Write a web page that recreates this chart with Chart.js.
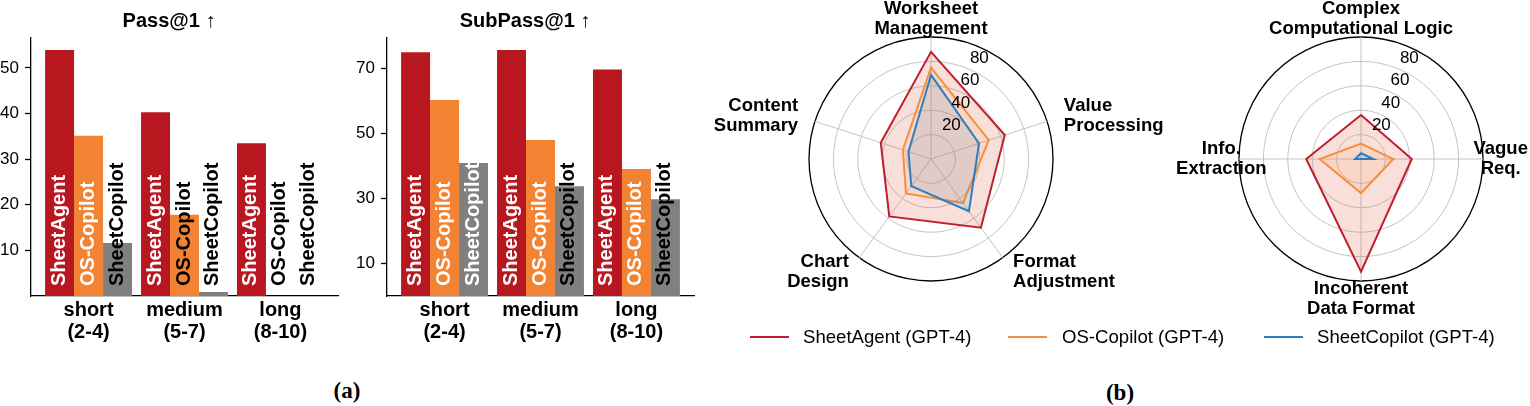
<!DOCTYPE html>
<html><head><meta charset="utf-8">
<script src="https://cdn.jsdelivr.net/npm/chart.js@4.4.0/dist/chart.umd.min.js"></script>
<style>
html,body{margin:0;padding:0;background:#fff;}
body{width:1530px;height:406px;position:relative;overflow:hidden;font-family:"Liberation Sans",Arial,sans-serif;}
canvas{position:absolute;}
.cap{position:absolute;font-family:"Liberation Serif","Times New Roman",serif;font-weight:bold;font-size:23px;transform:translate(-50%,-50%);white-space:nowrap;color:#000;}
.legline{position:absolute;height:2px;width:39px;}
.legtext{position:absolute;font-size:18.6px;color:#000;white-space:nowrap;transform:translateY(-50%);}
</style></head><body>
<canvas id="c1" width="345" height="345" style="left:0;top:0"></canvas>
<canvas id="c2" width="345" height="345" style="left:356px;top:0"></canvas>
<canvas id="r1" width="480" height="330" style="left:700px;top:0"></canvas>
<canvas id="r2" width="410" height="330" style="left:1120px;top:0"></canvas>
<div class="cap" style="left:347px;top:391px">(a)</div>
<div class="cap" style="left:1120px;top:393px">(b)</div>
<div id="legend"></div>
<script>
// ---------- data ----------
const barGroups = [['short','(2-4)'],['medium','(5-7)'],['long','(8-10)']];
const methods = ['SheetAgent','OS-Copilot','SheetCopilot'];
const passSheetAgent   = [53.9, 40.3, 33.5];
const passOSCopilot    = [35.1, 17.8, 0];
const passSheetCopilot = [11.6, 0.9, 0];
const subSheetAgent    = [75.0, 75.7, 69.7];
const subOSCopilot     = [60.3, 48.0, 39.1];
const subSheetCopilot  = [40.9, 33.8, 29.8];
const passTicks = [10, 20, 30, 40, 50];
const subTicks  = [10, 30, 50, 70];

const radar1Labels = [['Worksheet','Management'],['Value','Processing'],['Format','Adjustment'],['Chart','Design'],['Content','Summary']];
const radar1SheetAgent   = [87.8, 63.6, 69.6, 58.2, 43.3];
const radar1OSCopilot    = [74.9, 49.8, 44.6, 34.9, 24.2];
const radar1SheetCopilot = [68.9, 41.4, 52.9, 27.5, 19.4];
const radar2Labels = [['Complex','Computational Logic'],['Vague','Req.'],['Incoherent','Data Format'],['Info.','Extraction']];
const radar2SheetAgent   = [36.0, 41.6, 92.4, 44.9];
const radar2OSCopilot    = [12.6, 26.5, 27.9, 33.8];
const radar2SheetCopilot = [4.7, 10.1, 0, 4.8];
const radarTicks = [20, 40, 60, 80];
const legendNames = ['SheetAgent (GPT-4)','OS-Copilot (GPT-4)','SheetCopilot (GPT-4)'];

// ---------- styles ----------
const FONT = '"Liberation Sans", Arial, Helvetica, sans-serif';
Chart.defaults.font.family = FONT;
Chart.defaults.color = '#000';
const barColors  = ['#B8171F', '#F28332', '#808080'];
const lineColors = ['#BE1E2D', '#F3903F', '#2E7EBF'];
const fillColors = ['rgba(226,96,72,0.20)', 'rgba(243,144,63,0.12)', 'rgba(46,126,191,0.12)'];

const barLabelPlugin = {
  id: 'barLabels',
  afterDatasetsDraw(chart) {
    const ctx = chart.ctx;
    ctx.save();
    ctx.font = 'bold 20px ' + FONT;
    chart.data.datasets.forEach((ds, k) => {
      const meta = chart.getDatasetMeta(k);
      meta.data.forEach(bar => {
        const p = bar.getProps(['x', 'y', 'base'], true);
        const text = ds.label;
        const w = ctx.measureText(text).width;
        const h = p.base - p.y;
        ctx.fillStyle = (h >= w + 6) ? '#fff' : '#000';
        ctx.save();
        ctx.translate(p.x + 5, p.base - 10);
        ctx.rotate(-Math.PI / 2);
        ctx.textAlign = 'left';
        ctx.textBaseline = 'alphabetic';
        ctx.fillText(text, 0, 0);
        ctx.restore();
      });
    });
    ctx.restore();
  }
};

function barChart(id, title, series, ticks, ymax) {
  return new Chart(document.getElementById(id), {
    type: 'bar',
    data: {
      datasets: series.map((vals, k) => ({
        label: methods[k],
        data: vals.map((v, i) => ({ x: i, y: v })),
        backgroundColor: barColors[k],
        borderWidth: 0,
        categoryPercentage: 0.906,
        barPercentage: 1
      }))
    },
    options: {
      responsive: false, animation: false,
      layout: { padding: { left: 0, right: 7, top: 0, bottom: 0 } },
      plugins: {
        legend: { display: false }, tooltip: { enabled: false },
        title: { display: true, text: title, color: '#000',
          font: { size: 20, weight: 'bold', lineHeight: 1.15 },
          padding: { top: 9.5, bottom: 4.8 } }
      },
      scales: {
        x: {
          type: 'linear', min: -0.6, max: 2.6, offset: false,
          afterBuildTicks: s => { s.ticks = barGroups.map((g, i) => ({ value: i })); },
          ticks: { callback: v => barGroups[v], color: '#000', autoSkip: false, maxRotation: 0,
            font: { size: 20, weight: 'bold', lineHeight: 1.1 }, padding: 3 },
          grid: { display: false, drawTicks: false },
          border: { display: true, color: '#000', width: 1.3 },
          afterFit: s => { s.height = 49; }
        },
        y: {
          min: 0, max: ymax,
          afterBuildTicks: s => { s.ticks = ticks.map(v => ({ value: v })); },
          ticks: { color: '#000', font: { size: 17 }, padding: 6 },
          grid: { display: true, drawOnChartArea: false, drawTicks: true, tickLength: 6,
            tickColor: '#000', tickWidth: 1.3 },
          border: { display: true, color: '#000', width: 1.3 },
          afterFit: s => { s.width = 31; }
        }
      }
    },
    plugins: [barLabelPlugin]
  });
}

barChart('c1', 'Pass@1 \u2191', [passSheetAgent, passOSCopilot, passSheetCopilot], passTicks, 56.7);
barChart('c2', 'SubPass@1 \u2191', [subSheetAgent, subOSCopilot, subSheetCopilot], subTicks, 79.6);

function radarTextPlugin(labels, align) {
  return {
    id: 'radarText',
    afterDatasetsDraw(chart) {
      const s = chart.scales.r, ctx = chart.ctx;
      ctx.save();
      ctx.fillStyle = '#000';
      ctx.font = '17px ' + FONT;
      ctx.textAlign = 'center'; ctx.textBaseline = 'middle';
      const a = -Math.PI / 2 + Math.PI / 8;
      radarTicks.forEach(v => {
        const d = s.getDistanceFromCenterForValue(v);
        ctx.fillText(String(v), s.xCenter + d * Math.cos(a) + 11, s.yCenter + d * Math.sin(a) - 11);
      });
      ctx.font = 'bold 18.5px ' + FONT;
      labels.forEach((lines, i) => {
        const p = s.getPointPosition(i, s.drawingArea * 1.145);
        ctx.textAlign = align[i];
        lines.forEach((t, j) => ctx.fillText(t, p.x, p.y + (j - (lines.length - 1) / 2) * 20));
      });
      ctx.restore();
    }
  };
}

function radarChart(id, labels, series, align, pad) {
  return new Chart(document.getElementById(id), {
    type: 'radar',
    data: {
      labels: labels.map(l => l.join(' ')),
      datasets: series.map((vals, k) => ({
        label: legendNames[k], data: vals,
        borderColor: lineColors[k], backgroundColor: fillColors[k],
        borderWidth: 2, fill: true, pointRadius: 0, pointHoverRadius: 0,
        order: 2 - k
      }))
    },
    options: {
      responsive: false, animation: false,
      layout: { padding: pad },
      plugins: { legend: { display: false }, tooltip: { enabled: false } },
      scales: {
        r: {
          min: 0, max: 100,
          ticks: { display: false, stepSize: 20 },
          pointLabels: { display: false },
          grid: { circular: true,
            color: c => (c.tick && c.tick.value === 100) ? '#000' : '#c4c4c4',
            lineWidth: c => (c.tick && c.tick.value === 100) ? 1.3 : 1 },
          angleLines: { color: '#c4c4c4', lineWidth: 1 }
        }
      }
    },
    plugins: [radarTextPlugin(labels, align)]
  });
}

radarChart('r1', radar1Labels, [radar1SheetAgent, radar1OSCopilot, radar1SheetCopilot],
  ['center', 'left', 'left', 'right', 'right'], { left: 109, top: 37, right: 126, bottom: 48 });
radarChart('r2', radar2Labels, [radar2SheetAgent, radar2OSCopilot, radar2SheetCopilot],
  ['center', 'center', 'center', 'center'], { left: 119, top: 37, right: 47, bottom: 49 });

// legend
const legLineX = [750, 1008, 1264];
const legTextX = [803, 1062, 1317];
const leg = document.getElementById('legend');
legendNames.forEach((n, k) => {
  const l = document.createElement('div');
  l.className = 'legline';
  l.style.left = legLineX[k] + 'px'; l.style.top = '336px'; l.style.background = lineColors[k];
  leg.appendChild(l);
  const t = document.createElement('div');
  t.className = 'legtext';
  t.style.left = legTextX[k] + 'px'; t.style.top = '337px';
  t.textContent = n;
  leg.appendChild(t);
});
</script>
</body></html>
